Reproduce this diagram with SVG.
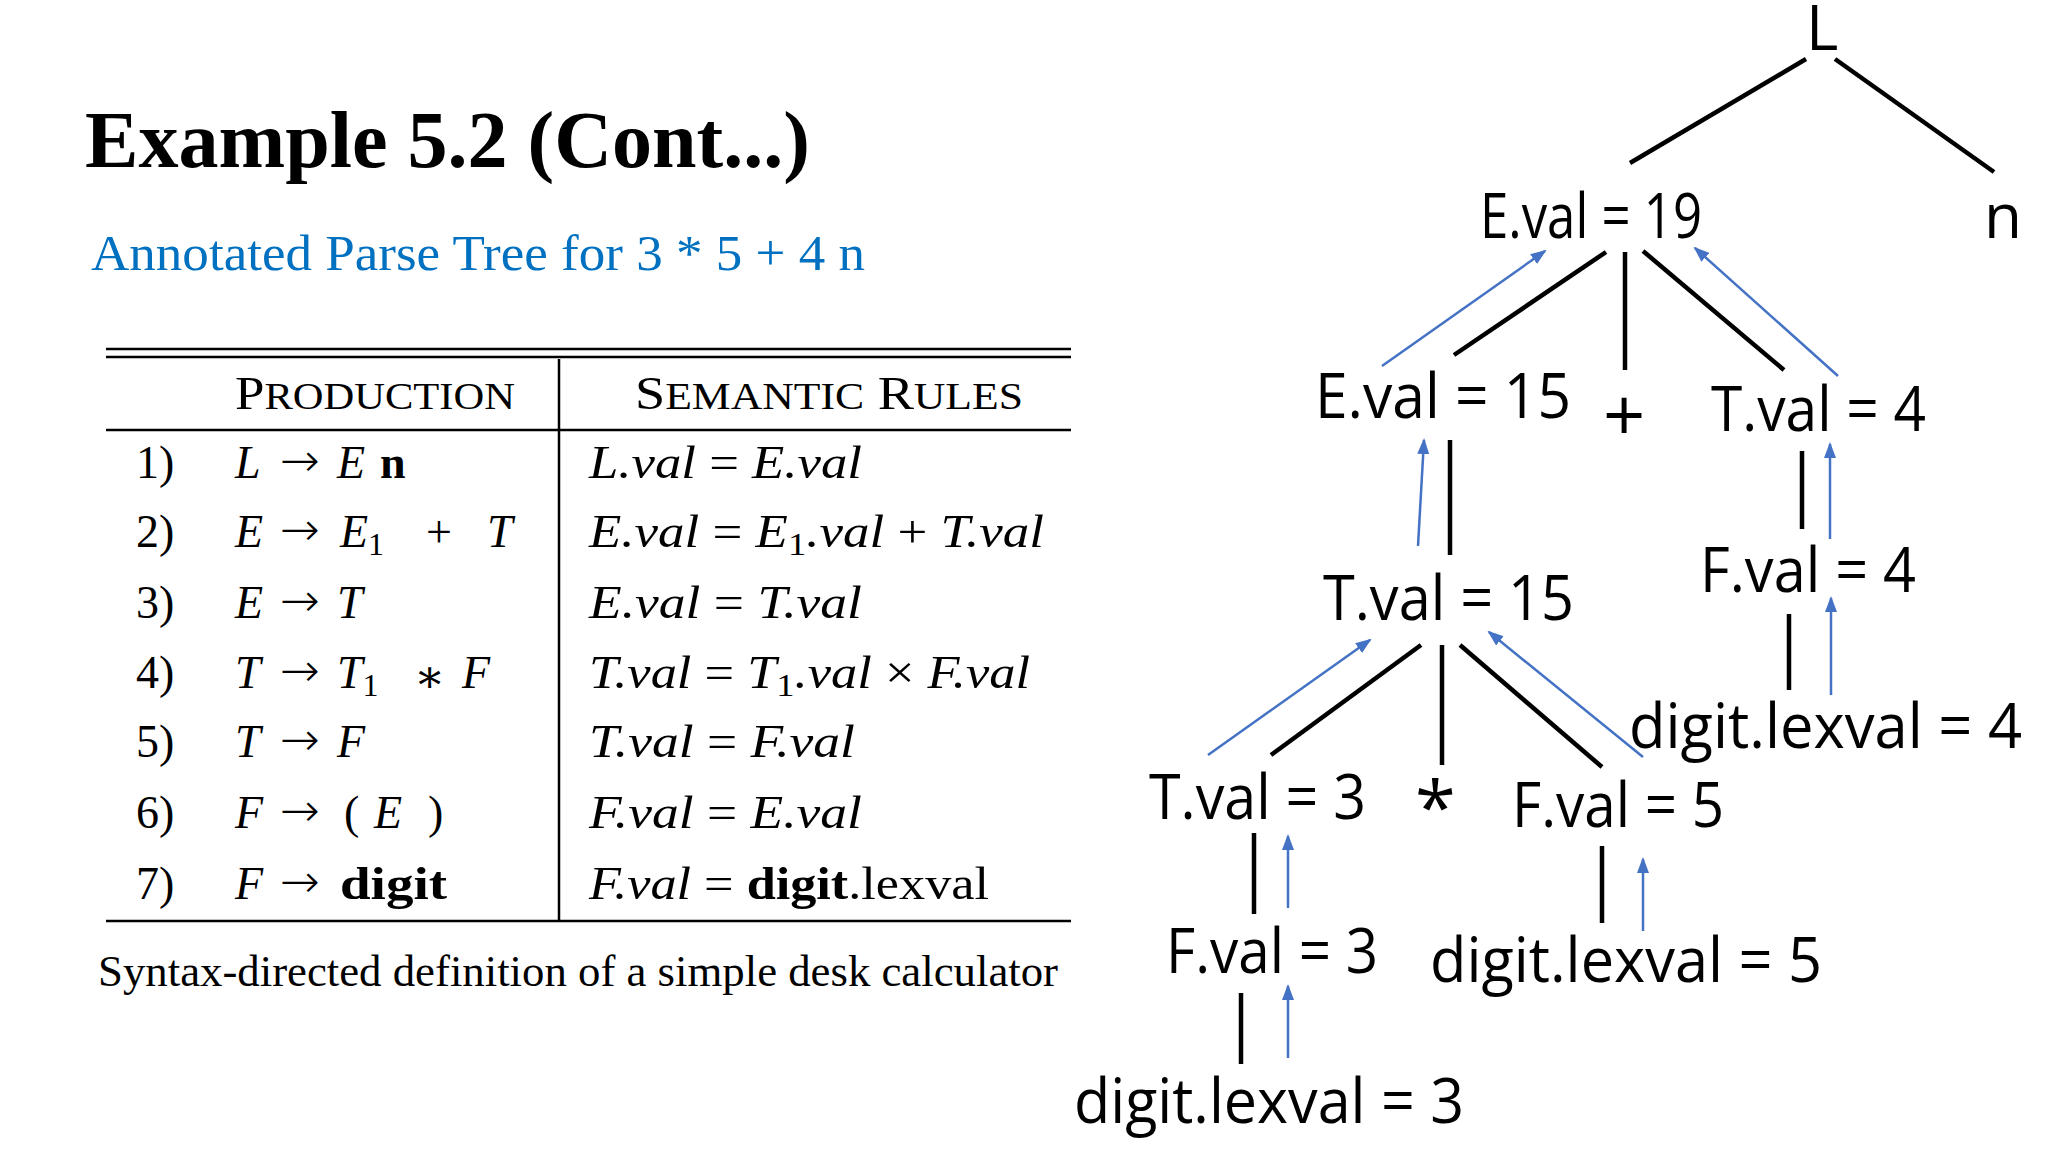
<svg xmlns="http://www.w3.org/2000/svg" width="2048" height="1152" viewBox="0 0 2048 1152">
<defs>
<style>
.title{font-family:"Liberation Serif","DejaVu Serif",serif;font-weight:bold;font-size:80px;fill:#000}
.sub{font-family:"Liberation Serif","DejaVu Serif",serif;font-size:50px;fill:#0070C0}
.cap{font-family:"Liberation Serif","DejaVu Serif",serif;font-size:44px;fill:#000}
.tm{font-family:"Liberation Serif","DejaVu Serif",serif;font-size:46px;fill:#000}
.it{font-style:italic}
.bf{font-weight:bold}
.ar{font-family:"DejaVu Sans",sans-serif;font-size:46px;font-weight:200}
.tl{stroke:#000;stroke-width:2.5}
.tn{font-family:"Open Sans","Noto Sans",sans-serif;font-size:62px;fill:#000}
.op{font-family:"Open Sans","Noto Sans",sans-serif;font-size:74px;fill:#000}
.edge{stroke:#000;stroke-width:4.5;fill:none}
.flow{stroke:#4472C4;stroke-width:2.5;fill:none;marker-end:url(#ah)}
</style>
<marker id="ah" markerUnits="userSpaceOnUse" markerWidth="16" markerHeight="12" refX="14" refY="6" orient="auto">
<path d="M0,0 L16,6 L0,12 Z" fill="#4472C4"/>
</marker>
</defs>
<rect width="2048" height="1152" fill="#fff"/>

<g id="title">
<text class="title" x="85" y="167" textLength="725" lengthAdjust="spacingAndGlyphs">Example 5.2 (Cont...)</text>
<text class="sub" x="91" y="270" textLength="774" lengthAdjust="spacingAndGlyphs">Annotated Parse Tree for 3 * 5 + 4 n</text>
</g>

<g id="table">
<line class="tl" x1="106" y1="349" x2="1071" y2="349"/>
<line class="tl" x1="106" y1="357" x2="1071" y2="357"/>
<line class="tl" x1="106" y1="430" x2="1071" y2="430"/>
<line class="tl" x1="106" y1="921" x2="1071" y2="921"/>
<line class="tl" x1="559" y1="359" x2="559" y2="921"/>
<text class="tm" x="235" y="409" textLength="280" lengthAdjust="spacingAndGlyphs">P<tspan font-size="37">RODUCTION</tspan></text>
<text class="tm" x="635" y="409" textLength="388" lengthAdjust="spacingAndGlyphs">S<tspan font-size="37">EMANTIC</tspan>   R<tspan font-size="37">ULES</tspan></text>

<g id="row1">
<text class="tm" x="136" y="478">1)</text>
<text class="tm it" x="235" y="478">L</text>
<text class="tm ar" x="280" y="476" textLength="40" lengthAdjust="spacingAndGlyphs">→</text>
<text class="tm it" x="337" y="478">E</text>
<text class="tm bf" x="380" y="478">n</text>
<text class="tm" x="589" y="478" textLength="273" lengthAdjust="spacingAndGlyphs"><tspan class="it">L.val</tspan> = <tspan class="it">E.val</tspan></text>
</g>
<g id="row2">
<text class="tm" x="136" y="547">2)</text>
<text class="tm it" x="235" y="547">E</text>
<text class="tm ar" x="280" y="545" textLength="40" lengthAdjust="spacingAndGlyphs">→</text>
<text class="tm" x="340" y="547"><tspan class="it">E</tspan><tspan font-size="32" dy="8">1</tspan></text>
<text class="tm" x="426" y="547">+</text>
<text class="tm it" x="487" y="547">T</text>
<text class="tm" x="589" y="547" textLength="455" lengthAdjust="spacingAndGlyphs"><tspan class="it">E.val</tspan> = <tspan class="it">E</tspan><tspan font-size="32" dy="8">1</tspan><tspan class="it" dy="-8">.val</tspan> + <tspan class="it">T.val</tspan></text>
</g>
<g id="row3">
<text class="tm" x="136" y="618">3)</text>
<text class="tm it" x="235" y="618">E</text>
<text class="tm ar" x="280" y="616" textLength="40" lengthAdjust="spacingAndGlyphs">→</text>
<text class="tm it" x="337" y="618">T</text>
<text class="tm" x="589" y="618" textLength="273" lengthAdjust="spacingAndGlyphs"><tspan class="it">E.val</tspan> = <tspan class="it">T.val</tspan></text>
</g>
<g id="row4">
<text class="tm" x="136" y="688">4)</text>
<text class="tm it" x="235" y="688">T</text>
<text class="tm ar" x="280" y="686" textLength="40" lengthAdjust="spacingAndGlyphs">→</text>
<text class="tm" x="337" y="688"><tspan class="it">T</tspan><tspan font-size="32" dy="8">1</tspan></text>
<text class="tm" x="414" y="692">∗</text>
<text class="tm it" x="462" y="688">F</text>
<text class="tm" x="589" y="688" textLength="441" lengthAdjust="spacingAndGlyphs"><tspan class="it">T.val</tspan> = <tspan class="it">T</tspan><tspan font-size="32" dy="8">1</tspan><tspan class="it" dy="-8">.val</tspan> × <tspan class="it">F.val</tspan></text>
</g>
<g id="row5">
<text class="tm" x="136" y="757">5)</text>
<text class="tm it" x="235" y="757">T</text>
<text class="tm ar" x="280" y="755" textLength="40" lengthAdjust="spacingAndGlyphs">→</text>
<text class="tm it" x="337" y="757">F</text>
<text class="tm" x="589" y="757" textLength="266" lengthAdjust="spacingAndGlyphs"><tspan class="it">T.val</tspan> = <tspan class="it">F.val</tspan></text>
</g>
<g id="row6">
<text class="tm" x="136" y="828">6)</text>
<text class="tm it" x="235" y="828">F</text>
<text class="tm ar" x="280" y="826" textLength="40" lengthAdjust="spacingAndGlyphs">→</text>
<text class="tm" x="344" y="828">(</text>
<text class="tm it" x="374" y="828">E</text>
<text class="tm" x="428" y="828">)</text>
<text class="tm" x="589" y="828" textLength="273" lengthAdjust="spacingAndGlyphs"><tspan class="it">F.val</tspan> = <tspan class="it">E.val</tspan></text>
</g>
<g id="row7">
<text class="tm" x="136" y="899">7)</text>
<text class="tm it" x="235" y="899">F</text>
<text class="tm ar" x="280" y="897" textLength="40" lengthAdjust="spacingAndGlyphs">→</text>
<text class="tm bf" x="340" y="899" textLength="107" lengthAdjust="spacingAndGlyphs">digit</text>
<text class="tm" x="589" y="899" textLength="400" lengthAdjust="spacingAndGlyphs"><tspan class="it">F.val</tspan> = <tspan class="bf">digit</tspan>.lexval</text>
</g>
<text class="cap" x="98" y="986" textLength="960" lengthAdjust="spacingAndGlyphs">Syntax-directed definition of a simple desk calculator</text>
</g>

<g id="connectors">
<line class="edge" x1="1806" y1="59" x2="1630" y2="163"/>
<line class="edge" x1="1835" y1="59" x2="1994" y2="172"/>
<line class="edge" x1="1606" y1="252" x2="1454" y2="355"/>
<line class="edge" x1="1625" y1="252" x2="1625" y2="370"/>
<line class="edge" x1="1643" y1="251" x2="1784" y2="370"/>
<line class="edge" x1="1450" y1="440" x2="1450" y2="555"/>
<line class="edge" x1="1802" y1="451" x2="1802" y2="529"/>
<line class="edge" x1="1789" y1="614" x2="1789" y2="690"/>
<line class="edge" x1="1421" y1="645" x2="1271" y2="755"/>
<line class="edge" x1="1442" y1="645" x2="1442" y2="765"/>
<line class="edge" x1="1460" y1="645" x2="1602" y2="767"/>
<line class="edge" x1="1254" y1="833" x2="1254" y2="914"/>
<line class="edge" x1="1602" y1="846" x2="1602" y2="923"/>
<line class="edge" x1="1241" y1="993" x2="1241" y2="1064"/>

<line class="flow" x1="1382" y1="366" x2="1545" y2="251"/>
<line class="flow" x1="1838" y1="376" x2="1695" y2="248"/>
<line class="flow" x1="1418" y1="546" x2="1424" y2="440"/>
<line class="flow" x1="1830" y1="539" x2="1830" y2="444"/>
<line class="flow" x1="1831" y1="695" x2="1831" y2="598"/>
<line class="flow" x1="1208" y1="755" x2="1370" y2="640"/>
<line class="flow" x1="1643" y1="757" x2="1489" y2="632"/>
<line class="flow" x1="1288" y1="908" x2="1288" y2="836"/>
<line class="flow" x1="1643" y1="931" x2="1643" y2="859"/>
<line class="flow" x1="1288" y1="1058" x2="1288" y2="986"/>
</g>

<g id="n-L"><text class="tn" x="1806" y="50">L</text></g>
<g id="n-E19"><text class="tn" x="1480" y="238" textLength="222" lengthAdjust="spacingAndGlyphs">E.val = 19</text></g>
<g id="n-n"><text class="tn" x="1984" y="238">n</text></g>
<g id="n-E15"><text class="tn" x="1315" y="418" textLength="256" lengthAdjust="spacingAndGlyphs">E.val = 15</text></g>
<g id="n-plus"><text class="op" x="1603" y="441">+</text></g>
<g id="n-T4"><text class="tn" x="1711" y="431" textLength="215" lengthAdjust="spacingAndGlyphs">T.val = 4</text></g>
<g id="n-T15"><text class="tn" x="1323" y="620" textLength="251" lengthAdjust="spacingAndGlyphs">T.val = 15</text></g>
<g id="n-F4"><text class="tn" x="1700" y="592" textLength="216" lengthAdjust="spacingAndGlyphs">F.val = 4</text></g>
<g id="n-d4"><text class="tn" x="1629" y="748" textLength="393" lengthAdjust="spacingAndGlyphs">digit.lexval = 4</text></g>
<g id="n-T3"><text class="tn" x="1149" y="819" textLength="217" lengthAdjust="spacingAndGlyphs">T.val = 3</text></g>
<g id="n-star"><text class="op" x="1415" y="834">*</text></g>
<g id="n-F5"><text class="tn" x="1512" y="827" textLength="212" lengthAdjust="spacingAndGlyphs">F.val = 5</text></g>
<g id="n-F3"><text class="tn" x="1166" y="973" textLength="212" lengthAdjust="spacingAndGlyphs">F.val = 3</text></g>
<g id="n-d5"><text class="tn" x="1430" y="982" textLength="392" lengthAdjust="spacingAndGlyphs">digit.lexval = 5</text></g>
<g id="n-d3"><text class="tn" x="1074" y="1123" textLength="390" lengthAdjust="spacingAndGlyphs">digit.lexval = 3</text></g>
</svg>
